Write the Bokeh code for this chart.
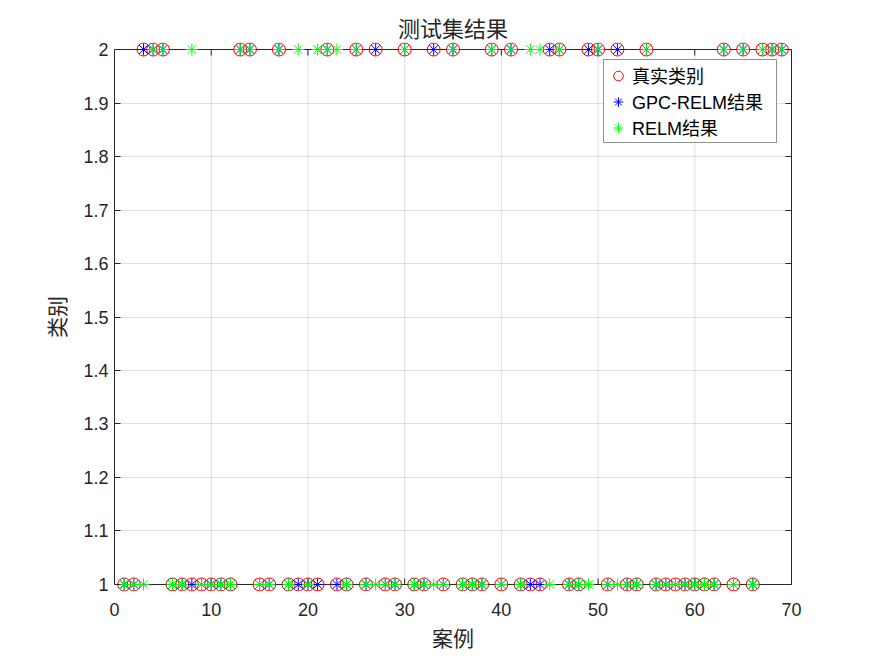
from bokeh.plotting import figure
from bokeh.models import (ColumnDataSource, Range1d, FixedTicker, LinearAxis, Legend,
                          LegendItem, Span)
from bokeh.embed import file_html
from bokeh.resources import INLINE

# test cases and their classes
case_no = list(range(1, 70))
true_class = [1, 1, 2, 2, 2, 1, 1, 1, 1, 1,
              1, 1, 2, 2, 1, 1, 2, 1, 1, 1,
              1, 2, 1, 1, 2, 1, 2, 1, 1, 2,
              1, 1, 2, 1, 2, 1, 1, 1, 2, 1,
              2, 1, 1, 1, 2, 2, 1, 1, 2, 2,
              1, 2, 1, 1, 2, 1, 1, 1, 1, 1,
              1, 1, 2, 1, 2, 1, 2, 2, 2]
gpc_relm = [1, 1, 2, 2, 2, 1, 1, 1, 1, 1,
            1, 1, 2, 2, 1, 1, 2, 1, 1, 1,
            1, 2, 1, 1, 2, 1, 2, 1, 1, 2,
            1, 1, 2, 1, 2, 1, 1, 1, 2, 1,
            2, 1, 1, 1, 2, 2, 1, 1, 2, 2,
            1, 2, 1, 1, 2, 1, 1, 1, 1, 1,
            1, 1, 2, 1, 2, 1, 2, 2, 2]
relm = [1, 1, 1, 2, 2, 1, 1, 2, 1, 1,
        1, 1, 2, 2, 1, 1, 2, 1, 2, 1,
        2, 2, 2, 1, 2, 1, 1, 1, 1, 2,
        1, 1, 1, 1, 2, 1, 1, 1, 2, 1,
        2, 1, 2, 2, 1, 2, 1, 1, 1, 2,
        1, 1, 1, 1, 2, 1, 1, 1, 1, 1,
        1, 1, 2, 1, 2, 1, 2, 2, 2]

x_ticks = [0, 10, 20, 30, 40, 50, 60, 70]
y_ticks = [1, 1.1, 1.2, 1.3, 1.4, 1.5, 1.6, 1.7, 1.8, 1.9, 2]
y_tick_labels = ["1", "1.1", "1.2", "1.3", "1.4", "1.5", "1.6", "1.7", "1.8", "1.9", "2"]

INK = "#262626"
CJK = "Noto Sans CJK SC"
LATIN = "Liberation Sans"

y_lo, y_hi = y_ticks[0], y_ticks[-1]
# frame is a bit taller than the axes box so markers on 1 and 2 are not cut
px = (y_hi - y_lo) / 534
pad = 7 * px
tick_len = 6 * px

src = ColumnDataSource(data=dict(x=case_no, true=true_class, gpc=gpc_relm, relm=relm))

p = figure(width=875, height=656,
           x_range=Range1d(x_ticks[0], x_ticks[-1]), y_range=Range1d(y_lo - pad, y_hi + pad),
           output_backend="svg", toolbar_location=None,
           min_border_left=114, min_border_right=84, min_border_top=42, min_border_bottom=65)
p.background_fill_color = "white"
p.border_fill_color = "white"
p.outline_line_color = None

p.title.text = "测试集结果"
p.title.align = "center"
p.title.vertical_align = "bottom"
p.title.standoff = 0
p.title.text_font = CJK
p.title.text_font_size = "22px"
p.title.text_font_style = "normal"
p.title.text_line_height = 0.7
p.title.text_color = INK

# grid
p.xgrid.visible = False
p.ygrid.ticker = FixedTicker(ticks=y_ticks)
p.ygrid.grid_line_color = INK
p.ygrid.grid_line_alpha = 0.15
grid_x = x_ticks[1:-1]
n = len(grid_x)
p.segment(x0=grid_x, y0=[y_lo] * n, x1=grid_x, y1=[y_hi] * n,
          line_color=INK, line_alpha=0.15, line_width=1, level="underlay")
# x tick marks on the bottom and top of the box, pointing in
p.segment(x0=grid_x, y0=[y_lo] * n, x1=grid_x, y1=[y_lo + tick_len] * n,
          line_color=INK, line_width=1, level="underlay")
p.segment(x0=grid_x, y0=[y_hi - tick_len] * n, x1=grid_x, y1=[y_hi] * n,
          line_color=INK, line_width=1, level="underlay")

# box top and bottom
for loc in (y_lo, y_hi):
    p.add_layout(Span(location=loc, dimension="width", line_color=INK, line_width=1,
                      level="underlay"))

r_true = p.scatter("x", "true", source=src, marker="circle", size=13,
                   fill_color=None, line_color="#ff0000", line_width=1)
r_g1 = p.scatter("x", "gpc", source=src, marker="cross", size=12, line_color="#0000ff", line_width=1)
r_g2 = p.scatter("x", "gpc", source=src, marker="x", size=12, line_color="#0000ff", line_width=1)
r_r1 = p.scatter("x", "relm", source=src, marker="cross", size=12, line_color="#00ff00", line_width=1)
r_r2 = p.scatter("x", "relm", source=src, marker="x", size=12, line_color="#00ff00", line_width=1)

# axes
xa = p.xaxis[0]
xa.ticker = FixedTicker(ticks=x_ticks)
xa.axis_line_color = None
xa.major_tick_line_color = None
xa.minor_tick_line_color = None
xa.major_label_standoff = 5
xa.axis_label = "案例"
xa.axis_label_standoff = 3

ya = p.yaxis[0]
ya.ticker = FixedTicker(ticks=y_ticks)
ya.major_label_overrides = dict(zip(y_ticks, y_tick_labels))
ya.bounds = (y_lo, y_hi)
ya.axis_line_color = INK
ya.major_tick_line_color = INK
ya.major_tick_in = 6
ya.major_tick_out = 0
ya.minor_tick_line_color = None
ya.major_label_standoff = 6
ya.axis_label = "类别"
ya.axis_label_standoff = 9

for ax in (xa, ya):
    ax.major_label_text_font = LATIN
    ax.major_label_text_font_size = "18px"
    ax.major_label_text_color = INK
    ax.axis_label_text_font = CJK
    ax.axis_label_text_font_size = "21px"
    ax.axis_label_text_font_style = "normal"
    ax.axis_label_text_color = INK

right = LinearAxis(ticker=FixedTicker(ticks=y_ticks), bounds=(y_lo, y_hi), axis_line_color=INK,
                   major_tick_line_color=INK, major_tick_in=6, major_tick_out=0,
                   minor_tick_line_color=None, major_label_standoff=0,
                   major_label_overrides={t: "" for t in y_ticks})
p.add_layout(right, "right")

legend = Legend(items=[
    LegendItem(label="真实类别", renderers=[r_true]),
    LegendItem(label="GPC-RELM结果", renderers=[r_g1, r_g2]),
    LegendItem(label="RELM结果", renderers=[r_r1, r_r2]),
], location=(489, 448))
legend.label_text_font = LATIN + ", " + CJK
legend.label_text_font_size = "18px"
legend.label_text_line_height = 1.1
legend.label_text_color = "black"
legend.border_line_color = INK
legend.border_line_width = 1
legend.padding = 2
legend.spacing = 0
legend.margin = 0
legend.label_height = 25
legend.glyph_height = 25
legend.glyph_width = 24
legend.label_standoff = 2
legend.label_width = 142
p.add_layout(legend)

open("out.html", "w").write(file_html(p, INLINE))
